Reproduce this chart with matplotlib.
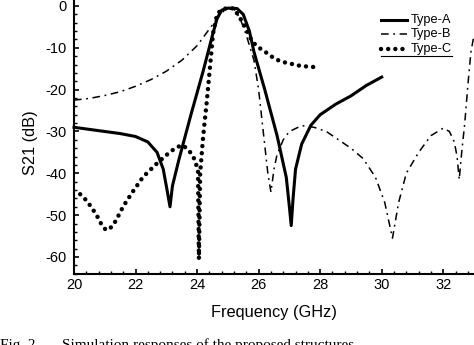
import matplotlib
matplotlib.use("Agg")
import matplotlib.pyplot as plt
from matplotlib.ticker import MultipleLocator, AutoMinorLocator
from matplotlib.lines import Line2D

plt.rcParams['font.family'] = ['Liberation Sans', 'DejaVu Sans']
plt.rcParams['axes.unicode_minus'] = False

# Simulated S21 responses (frequency in GHz, magnitude in dB)
freq_a = [20.0, 20.5, 21.0, 21.5, 22.0, 22.4, 22.7, 22.9, 23.0, 23.12, 23.2, 23.4,
          23.8, 24.2, 24.5, 24.65, 24.8, 25.0, 25.3, 25.5, 25.7, 25.85, 26.2, 26.6,
          26.9, 27.0, 27.06, 27.12, 27.2, 27.4, 27.7, 28.0, 28.5, 29.0, 29.5, 30.0]
s21_a = [-29.0, -29.5, -30.0, -30.5, -31.2, -32.5, -35.0, -39.0, -43.0, -48.0, -43.0, -37.0,
         -26.0, -15.5, -7.0, -3.0, -1.0, -0.5, -0.6, -2.0, -6.0, -11.0, -20.0, -31.0,
         -41.0, -48.0, -52.5, -46.0, -39.0, -33.0, -28.5, -26.0, -23.5, -21.5, -19.0, -17.0]

freq_b = [20.0, 20.5, 21.0, 21.5, 22.0, 22.5, 23.0, 23.5, 24.0, 24.3, 24.6, 24.8, 25.0,
          25.2, 25.4, 25.6, 25.85, 26.0, 26.15, 26.3, 26.4, 26.5, 26.6, 26.8, 27.0, 27.4,
          27.8, 28.2, 28.6, 29.0, 29.4, 29.8, 30.1, 30.35, 30.55, 30.8, 31.2, 31.6, 32.0,
          32.2, 32.36, 32.45, 32.52, 32.6, 32.7, 32.8, 32.9, 33.0]
s21_b = [-22.5, -22.1, -21.4, -20.5, -19.2, -17.6, -15.6, -13.0, -9.5, -6.5, -3.5, -1.6, -0.6,
         -0.8, -3.0, -7.0, -13.0, -20.0, -30.0, -40.0, -44.5, -39.0, -35.5, -32.0, -30.0, -28.6,
         -29.0, -30.0, -32.0, -34.0, -36.5, -41.0, -47.0, -55.5, -47.0, -40.0, -35.0, -31.0, -29.2,
         -30.0, -32.5, -36.0, -41.5, -35.0, -28.0, -19.0, -11.0, -7.0]

freq_c = [20.2, 20.42, 20.58, 20.73, 20.85, 21.04, 21.23, 21.37, 21.6, 21.9, 22.24, 22.7,
          23.12, 23.35, 23.55, 23.77, 23.93, 24.03, 24.06, 24.1, 24.2, 24.32, 24.42, 24.52,
          24.65, 24.8, 25.0, 25.2, 25.43, 25.59, 25.8, 26.02, 26.28, 26.5, 26.73, 26.99,
          27.22, 27.41, 27.7, 27.9]
s21_c = [-45.0, -46.6, -48.3, -49.9, -51.7, -53.6, -52.8, -51.2, -47.9, -44.5, -40.9, -37.6,
         -34.9, -33.7, -33.3, -34.9, -36.8, -39.5, -60.5, -40.0, -31.0, -22.5, -14.6, -6.5,
         -2.0, -0.8, -0.5, -0.6, -3.3, -5.5, -8.6, -10.0, -11.3, -12.5, -13.3, -13.7,
         -14.1, -14.4, -14.5, -14.7]

labels = ["Type-A", "Type-B", "Type-C"]

fig = plt.figure(figsize=(4.74, 3.45), dpi=100)
ax = fig.add_axes([74 / 474, 71 / 345, 400 / 474, 274 / 345])

style_a = dict(color='black', lw=2.2, linestyle='-')
style_b = dict(color='black', lw=1.1, linestyle=(0, (5, 3, 1.2, 3)))
style_c = dict(color='black', lw=3.2, linestyle=(0, (0.01, 1.6)), dash_capstyle='round')

ax.plot(freq_a, s21_a, clip_on=False, **style_a)
ax.plot(freq_b, s21_b, clip_on=False, **style_b)
ax.plot(freq_c, s21_c, clip_on=False, **style_c)

ax.set_xlim(20, 33)
ax.set_ylim(-64.07, 1.43)
ax.xaxis.set_major_locator(MultipleLocator(2))
ax.xaxis.set_minor_locator(AutoMinorLocator(5))
ax.yaxis.set_major_locator(MultipleLocator(10))
ax.yaxis.set_minor_locator(AutoMinorLocator(5))

for side in ('top', 'right'):
    ax.spines[side].set_visible(False)
for side in ('left', 'bottom'):
    ax.spines[side].set_linewidth(1.5)

ax.tick_params(which='major', direction='in', length=3.5, width=1.2, labelsize=10.5)
ax.tick_params(axis='x', which='major', pad=3)
ax.tick_params(axis='y', which='major', pad=5.5)
ax.tick_params(which='minor', direction='in', length=2.2, width=1.0)

ax.set_xlabel("Frequency (GHz)", fontsize=11.8, va='center')
ax.xaxis.set_label_coords(0.5, -0.139)
ax.set_ylabel("S21 (dB)", fontsize=11.8, va='center')
ax.yaxis.set_label_coords(-0.11, 0.478)

# Legend drawn as handles and labels in figure pixels
leg_y = [20, 34, 49]
styles = [style_a, style_b, style_c]
for y, lab, st in zip(leg_y, labels, styles):
    yf = (345 - y) / 345
    fig.add_artist(Line2D([381 / 474, 407 / 474], [yf, yf], **st))
    fig.text(411 / 474, yf, lab, fontsize=9.2, va='center', ha='left')
fig.add_artist(Line2D([381 / 474, 452 / 474], [(345 - 56) / 345] * 2, color='black', lw=0.8))

# Caption below the chart
fig.text(0.0, -4 / 345, "Fig. 2", family=['Liberation Serif'], fontsize=11, va='baseline')
fig.text(62 / 474, -4 / 345, "Simulation responses of the proposed structures",
         family=['Liberation Serif'], fontsize=11, va='baseline')

fig.savefig("out.png", dpi=100)
